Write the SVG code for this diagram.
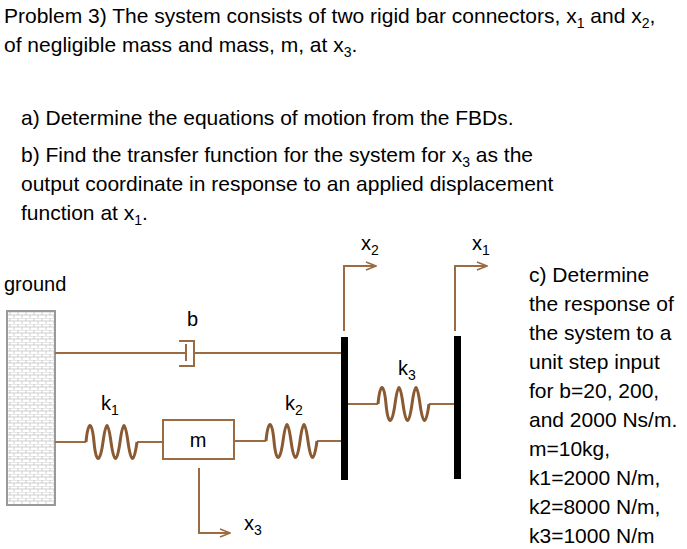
<svg xmlns="http://www.w3.org/2000/svg" width="687" height="549" viewBox="0 0 687 549">
<style>
text{font-family:"Liberation Sans",Arial,sans-serif;fill:#000}
.t{font-size:21px}
.l{font-size:20px}
.c{fill:none;stroke:#9b6b43;stroke-width:2}
.s{fill:none;stroke:#8a5a33;stroke-width:3;stroke-linejoin:round}
.bar{fill:#000}
</style>
<defs>
<pattern id="brick" width="8" height="6" patternUnits="userSpaceOnUse">
<rect width="8" height="6" fill="#fff"/>
<path d="M0 0H8M0 3H8M2 0V3M6 3V6" stroke="#bbb" stroke-width="0.7"/>
</pattern>
<marker id="ah" markerWidth="12" markerHeight="10" refX="11" refY="5" orient="auto" markerUnits="userSpaceOnUse">
<path d="M1 1L11 5L1 9" fill="none" stroke="#9b6b43" stroke-width="1.5"/>
</marker>
</defs>
<g id="text">
<text class="t" x="4" y="23">Problem 3) The system consists of two rigid bar connectors, x<tspan font-size="14" dy="5">1</tspan><tspan dy="-5"> and x</tspan><tspan font-size="14" dy="5">2</tspan><tspan dy="-5">,</tspan></text>
<text class="t" x="4" y="52">of negligible mass and mass, m, at x<tspan font-size="14" dy="5">3</tspan><tspan dy="-5">.</tspan></text>
<text class="t" x="21" y="125">a) Determine the equations of motion from the FBDs.</text>
<text class="t" x="21" y="162">b) Find the transfer function for the system for x<tspan font-size="14" dy="5">3</tspan><tspan dy="-5"> as the</tspan></text>
<text class="t" x="21" y="191">output coordinate in response to an applied displacement</text>
<text class="t" x="21" y="220">function at x<tspan font-size="14" dy="5">1</tspan><tspan dy="-5">.</tspan></text>
<text class="t" x="529" y="282">c) Determine</text>
<text class="t" x="529" y="311">the response of</text>
<text class="t" x="529" y="340">the system to a</text>
<text class="t" x="529" y="369">unit step input</text>
<text class="t" x="529" y="398">for b=20, 200,</text>
<text class="t" x="529" y="427">and 2000 Ns/m.</text>
<text class="t" x="529" y="456">m=10kg,</text>
<text class="t" x="529" y="485">k1=2000 N/m,</text>
<text class="t" x="529" y="514">k2=8000 N/m,</text>
<text class="t" x="529" y="543">k3=1000 N/m</text>
</g>
<g id="ground">
<rect x="7" y="311" width="48" height="194" fill="url(#brick)" stroke="#999" stroke-width="2"/>
<text class="l" x="4" y="291">ground</text>
</g>
<g id="bar-x2"><rect class="bar" x="341" y="337" width="7" height="143"/><text class="l" x="361" y="250">x<tspan font-size="14" dy="5">2</tspan></text></g>
<g id="bar-x1"><rect class="bar" x="454" y="336" width="7" height="143"/><text class="l" x="472" y="250">x<tspan font-size="14" dy="5">1</tspan></text></g>
<g id="mass"><rect x="163" y="420" width="71" height="39" fill="#fff" stroke="#9b6b43" stroke-width="2"/><text class="l" x="198" y="447" text-anchor="middle">m</text></g>
<g id="labels">
<text class="l" x="187" y="326">b</text>
<text class="l" x="101" y="410">k<tspan font-size="14" dy="5">1</tspan></text>
<text class="l" x="285" y="410">k<tspan font-size="14" dy="5">2</tspan></text>
<text class="l" x="398" y="375">k<tspan font-size="14" dy="5">3</tspan></text>
<text class="l" x="244" y="530">x<tspan font-size="14" dy="5">3</tspan></text>
</g>
<g id="connectors">
<path class="c" d="M55 353H186M186 344V361M179 341H194V366H179M194 353H341"/>
<path class="c" d="M55 442H86M137 442H163"/>
<path class="s" d="M86 442C88 420 92 420 94 442S100 464 103 442S108 420 111 442S117 464 120 442S125 420 128 442S134 464 137 442"/>
<path class="c" d="M234 441H266M317 441H341"/>
<path class="s" d="M266 441C268 419 272 419 274 441S280 463 283 441S288 419 291 441S297 463 300 441S305 419 308 441S314 463 317 441"/>
<path class="c" d="M348 404H378M429 404H454"/>
<path class="s" d="M378 404C380 382 384 382 386 404S392 426 395 404S400 382 403 404S409 426 412 404S417 382 420 404S426 426 429 404"/>
<path class="c" d="M344 331V266H376" marker-end="url(#ah)"/>
<path class="c" d="M455 331V266H487" marker-end="url(#ah)"/>
<path class="c" d="M199 468V533H230" marker-end="url(#ah)"/>
</g>
</svg>
